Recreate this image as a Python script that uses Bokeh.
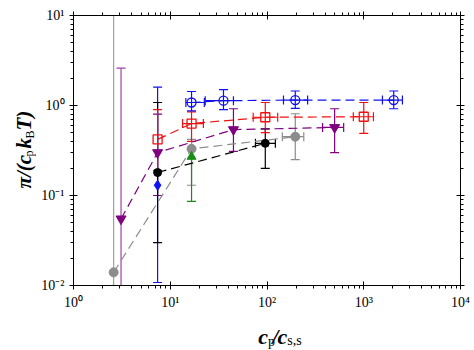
import math
from bokeh.plotting import figure
from bokeh.layouts import row, column
from bokeh.models import ColumnDataSource, Whisker, TeeHead, LogAxis, LogTicker, Range1d
from bokeh.core.properties import value
from bokeh.embed import file_html
from bokeh.resources import INLINE

# ---------------- data ----------------
blue_x = [16.6, 35.5, 196, 2040]
blue_y = [1.08, 1.13, 1.15, 1.15]
blue_ylo = [0.87, 0.90, 0.93, 0.92]
blue_yhi = [1.43, 1.50, 1.45, 1.45]
blue_xlo = [14.5, 23, 148, 1560]
blue_xhi = [22.5, 45, 263, 2510]

diam_x = [7.4]
diam_y = [0.13]
diam_ylo = [0.0108]
diam_yhi = [1.6]

red_x = [7.4, 16.6, 96, 1000]
red_y = [0.42, 0.63, 0.74, 0.75]
red_ylo = [0.19, 0.40, 0.50, 0.49]
red_yhi = [0.90, 0.85, 1.08, 1.08]
red_xlo = [None, 13.4, 72, 780]
red_xhi = [None, 22, 129, 1260]

pur_x = [3.1, 7.4, 45, 500]
pur_y = [0.055, 0.30, 0.54, 0.57]
pur_ylo = [0.005, 0.10, 0.31, 0.30]
pur_yhi = [2.6, 0.80, 0.92, 0.92]
pur_xlo = [None, None, None, 375]
pur_xhi = [None, None, None, 620]

blk_x = [7.4, 96]
blk_y = [0.18, 0.38]
blk_ylo = [0.03, 0.20]
blk_yhi = [1.08, 0.55]
blk_xlo = [None, 76]
blk_xhi = [None, 122]

gry_x = [2.6, 16.6, 196]
gry_y = [0.014, 0.33, 0.45]
gry_ylo = [0.001, 0.13, 0.25]
gry_yhi = [100, 0.42, 0.81]
gry_xlo = [None, None, 144]
gry_xhi = [None, None, 240]

grn_x = [16.6]
grn_y = [0.27]
grn_ylo = [0.086]
grn_yhi = [0.33]

x_tick_labels = {1: "10⁰", 10: "10¹", 100: "10²", 1000: "10³", 10000: "10⁴"}
y_tick_labels = {0.01: "10⁻²", 0.1: "10⁻¹", 1: "10⁰", 10: "10¹"}

XMIN, XMAX, YMIN, YMAX = 1, 1e4, 0.01, 10

BLUE = "#1010f0"
RED = "#f01010"
PUR = "#800080"
PUR_L = "#a040a8"
BLK = "#000000"
GRY = "#8c8c8c"
GRY_L = "#a0a0a0"
GRN = "#1a8c1a"

FONT = "Liberation Serif"
W, H = 474, 350
YT_W = 36          # strip holding the y title
XT_H = 35          # strip holding the x title

p = figure(width=W - YT_W, height=H - XT_H, x_axis_type="log", y_axis_type="log",
           x_range=Range1d(XMIN, XMAX), y_range=Range1d(YMIN, YMAX),
           output_backend="svg", toolbar_location=None,
           min_border_left=73 - YT_W, min_border_right=14, min_border_top=15,
           min_border_bottom=30)
p.outline_line_color = None
p.xgrid.visible = False
p.ygrid.visible = False
p.background_fill_color = "white"
p.border_fill_color = "white"


def style_axis(ax, labels=None):
    ax.ticker = LogTicker(num_minor_ticks=10)
    ax.axis_line_color = "black"
    ax.axis_line_width = 1
    ax.major_tick_in = 4
    ax.major_tick_out = 4
    ax.minor_tick_in = 0
    ax.minor_tick_out = 3
    ax.major_tick_line_color = "black"
    ax.minor_tick_line_color = "black"
    if labels is None:
        ax.major_label_text_font_size = "1px"
        ax.major_label_text_alpha = 0
        ax.major_label_standoff = 0
    else:
        ax.major_label_overrides = labels
        ax.major_label_text_font = FONT
        ax.major_label_text_font_size = "14px"
        ax.major_label_text_color = "black"
        ax.major_label_standoff = 5


style_axis(p.xaxis[0], x_tick_labels)
style_axis(p.yaxis[0], y_tick_labels)
top_ax = LogAxis()
right_ax = LogAxis()
style_axis(top_ax)
style_axis(right_ax)
p.add_layout(top_ax, "above")
p.add_layout(right_ax, "right")


def clipy(v):
    return min(max(v, YMIN), YMAX)


def yerr(xs, lo, hi, color):
    groups = {}
    for x, l, h in zip(xs, lo, hi):
        key = (l >= YMIN, h <= YMAX)
        groups.setdefault(key, ([], [], []))
        g = groups[key]
        g[0].append(x)
        g[1].append(clipy(l))
        g[2].append(clipy(h))
    for (has_lo, has_hi), (bx, bl, bh) in groups.items():
        src = ColumnDataSource(dict(base=bx, lower=bl, upper=bh))
        w = Whisker(source=src, base="base", lower="lower", upper="upper",
                    dimension="height", line_color=color, line_width=1.2,
                    lower_head=TeeHead(size=9, line_color=color, line_width=1.2) if has_lo else None,
                    upper_head=TeeHead(size=9, line_color=color, line_width=1.2) if has_hi else None)
        p.add_layout(w)


def xerr(ys, lo, hi, color):
    by, bl, bh = [], [], []
    for y, l, h in zip(ys, lo, hi):
        if l is None:
            continue
        by.append(y)
        bl.append(l)
        bh.append(h)
    if not by:
        return
    src = ColumnDataSource(dict(base=by, lower=bl, upper=bh))
    p.add_layout(Whisker(source=src, base="base", lower="lower", upper="upper",
                         dimension="width", line_color=color, line_width=1.2,
                         lower_head=TeeHead(size=9, line_color=color, line_width=1.2),
                         upper_head=TeeHead(size=9, line_color=color, line_width=1.2)))


DASH = "9 5"
# dashed connecting lines
p.line(gry_x, gry_y, line_color=GRY, line_width=1.2, line_dash=DASH)
p.line(blk_x, blk_y, line_color=BLK, line_width=1.2, line_dash=DASH)
p.line(pur_x, pur_y, line_color=PUR, line_width=1.2, line_dash=DASH)
p.line(red_x, red_y, line_color=RED, line_width=1.2, line_dash=DASH)
p.line(blue_x, blue_y, line_color=BLUE, line_width=1.2, line_dash=DASH)

# error bars
yerr(gry_x[:1], gry_ylo[:1], gry_yhi[:1], GRY_L)
yerr(gry_x[1:], gry_ylo[1:], gry_yhi[1:], GRY)
xerr(gry_y, gry_xlo, gry_xhi, GRY)
yerr(grn_x, grn_ylo, grn_yhi, GRN)
yerr(pur_x[:1], pur_ylo[:1], pur_yhi[:1], PUR_L)
yerr(pur_x[1:], pur_ylo[1:], pur_yhi[1:], PUR)
xerr(pur_y, pur_xlo, pur_xhi, PUR)
yerr(diam_x, diam_ylo, diam_yhi, BLUE)
yerr(blk_x, blk_ylo, blk_yhi, BLK)
xerr(blk_y, blk_xlo, blk_xhi, BLK)
yerr(red_x, red_ylo, red_yhi, RED)
xerr(red_y, red_xlo, red_xhi, RED)
yerr(blue_x, blue_ylo, blue_yhi, BLUE)
xerr(blue_y, blue_xlo, blue_xhi, BLUE)

# markers
p.scatter(gry_x, gry_y, marker="circle", size=9, fill_color=GRY, line_color=GRY)
p.scatter(grn_x, grn_y, marker="triangle", size=9, fill_color=GRN, line_color=GRN)
p.scatter(pur_x, pur_y, marker="inverted_triangle", size=10, fill_color=PUR, line_color=PUR)
p.scatter(blk_x, blk_y, marker="circle", size=8, fill_color=BLK, line_color=BLK)
p.scatter(diam_x, diam_y, marker="diamond", size=10, fill_color=BLUE, line_color=BLUE)
p.scatter(red_x, red_y, marker="square", size=9, fill_color=None, line_color=RED, line_width=1.3)
p.scatter(blue_x, blue_y, marker="circle", size=9, fill_color=None, line_color=BLUE, line_width=1.3)


# ---- title strips (pixel coordinate figures, no axes) ----
def strip(w, h, x0, y0):
    f = figure(width=w, height=h, x_range=Range1d(x0, x0 + w), y_range=Range1d(y0, y0 + h),
               output_backend="svg", toolbar_location=None,
               x_axis_location=None, y_axis_location=None,
               min_border=0, min_border_left=0, min_border_right=0,
               min_border_top=0, min_border_bottom=0)
    f.outline_line_color = None
    f.xgrid.visible = False
    f.ygrid.visible = False
    f.background_fill_color = "white"
    f.border_fill_color = "white"
    return f


# coordinates below are canvas pixels (x right, y down) turned into strip coordinates
yt = strip(YT_W, H, 0, 0)
xt = strip(W - YT_W, XT_H, YT_W, 0)


def piece(f, text, cx, cy, size, bi=True, angle=0.0):
    f.text(x=[cx], y=[H - cy], text=[text], text_font=value(FONT),
           text_font_size=value(f"{size}px"),
           text_font_style=value("bold italic" if bi else "normal"),
           text_align=value("left"), text_baseline=value("alphabetic"),
           angle=angle, text_color="black")


# x title: c_p / c_s,s
piece(xt, "c", 245, 336, 22)
piece(xt, "p", 256, 341, 14, bi=False)
piece(xt, "/", 261, 336, 22)
piece(xt, "c", 267, 336, 22)
piece(xt, "s,s", 278, 340, 14, bi=False)

# y title: π/(c_p k_B T)
A = math.pi / 2
piece(yt, "π/(c", 23, 188, 21, angle=A)
piece(yt, "p", 28, 156, 12, bi=False, angle=A)
piece(yt, "k", 23, 148, 21, angle=A)
piece(yt, "B", 29, 138, 12, bi=False, angle=A)
piece(yt, "T)", 23, 130, 21, angle=A)

layout = row(yt, column(p, xt, spacing=0), spacing=0)
open("out.html", "w").write(file_html(layout, INLINE))
